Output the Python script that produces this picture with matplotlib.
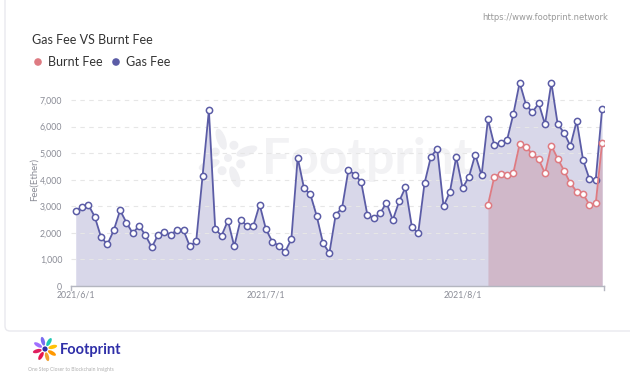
import matplotlib.pyplot as plt
import matplotlib.patches as mpatches
import numpy as np
import pandas as pd

# daily fee totals (Ether), 2021/6/1 .. 2021/8/23
dates = pd.date_range('2021-06-01', periods=84, freq='D')
gas_fee = [2823, 2974, 3049, 2610, 1832, 1568, 2095, 2848, 2384, 1982,
           2271, 1907, 1455, 1932, 2033, 1932, 2120, 2095, 1493, 1694,
           4128, 6612, 2133, 1895, 2459, 1493, 2497, 2258, 2258, 3061,
           2133, 1669, 1518, 1280, 1757, 4831, 3676, 3450, 2635, 1606,
           1242, 2685, 2936, 4366, 4191, 3927, 2660, 2560, 2735, 3137,
           2484, 3187, 3713, 2233, 1983, 3864, 4855, 5168, 2998, 3538,
           4855, 3688, 4102, 4943, 4165, 6272, 5306, 5394, 5482, 6460,
           7653, 6825, 6536, 6875, 6084, 7653, 6084, 5770, 5269, 6221,
           4742, 4027, 4001, 6662]
# burnt fee starts with EIP-1559 (2021/8/5)
burnt_dates = pd.date_range('2021-08-05', periods=19, freq='D')
burnt_fee = [3049, 4102, 4228, 4178, 4253, 5344, 5231, 4968, 4768, 4240,
             5281, 4793, 4341, 3864, 3550, 3462, 3061, 3112, 5382]

tick_dates = pd.to_datetime(['2021-06-01', '2021-07-01', '2021-08-01'])
tick_labels = ['2021/6/1', '2021/7/1', '2021/8/1']

gas_color = '#5b5ca6'
burnt_color = '#de7b82'
label_gray = '#8a8c96'

plt.rcParams['font.family'] = ['Lato', 'DejaVu Sans']

fig = plt.figure(figsize=(6.3, 3.79), dpi=100)
fig.patch.set_facecolor('white')

# background layer in pixel coordinates (card, watermark, legend, footer)
bg = fig.add_axes([0, 0, 1, 1], zorder=-1)
bg.set_xlim(0, 630)
bg.set_ylim(379, 0)
bg.axis('off')

bg.add_patch(mpatches.FancyBboxPatch((5, -20), 700, 351,
                                     boxstyle='round,pad=0,rounding_size=5',
                                     facecolor='white', edgecolor='#e9e9ee',
                                     linewidth=1.0))

# watermark
bg.text(262, 160, 'Footprint', fontsize=36, fontweight='bold', color='#f2f2f4',
        va='center', ha='left')
cx, cy = 228, 158
for k in range(8):
    ang = k * 45 + 20
    r = 20 if k % 2 == 0 else 14
    px = cx + r * np.cos(np.deg2rad(ang))
    py = cy - r * np.sin(np.deg2rad(ang))
    w = 22 if k % 2 == 0 else 9
    bg.add_patch(mpatches.Ellipse((px, py), w, 9, angle=-ang,
                                  facecolor='#efeff2', edgecolor='none'))
bg.add_patch(mpatches.Circle((cx, cy), 4, facecolor='#efeff2', edgecolor='none'))

# title, legend, url
bg.text(32, 40, 'Gas Fee VS Burnt Fee', fontsize=9, color='#333333',
        va='center', ha='left')
bg.add_patch(mpatches.Circle((38, 62), 3.8, facecolor=burnt_color, edgecolor='none'))
bg.text(48, 62, 'Burnt Fee', fontsize=9, color='#333333', va='center', ha='left')
bg.add_patch(mpatches.Circle((116, 62), 3.8, facecolor=gas_color, edgecolor='none'))
bg.text(126, 62, 'Gas Fee', fontsize=9, color='#333333', va='center', ha='left')
bg.text(608, 17, 'https://www.footprint.network', fontsize=6, color='#999999',
        va='center', ha='right', family=['DejaVu Sans'])

# footer logo
lx, ly = 45, 349
petals = ['#1fc8b4', '#ffc107', '#ff9800', '#f0a030', '#e6174f', '#e02060',
          '#a070ff', '#7b6cf0']
for k, c in enumerate(petals):
    ang = 60 - k * 45
    px = lx + 8 * np.cos(np.deg2rad(ang))
    py = ly - 8 * np.sin(np.deg2rad(ang))
    bg.add_patch(mpatches.Ellipse((px, py), 9, 3.8, angle=-ang,
                                  facecolor=c, edgecolor='none'))
bg.add_patch(mpatches.Circle((lx, ly), 2.6, facecolor='#2f2fa8', edgecolor='none'))
bg.text(60, 350, 'Footprint', fontsize=10.5, fontweight='bold', color='#2f2fa8',
        va='center', ha='left')
bg.text(28, 370, 'One Step Closer to Blockchain Insights', fontsize=3.6,
        color='#b0b0b0', va='center', ha='left')

# main chart
ax = fig.add_axes([70.7 / 630, 1 - 286 / 379, (604 - 70.7) / 630, (286 - 73.4) / 379])
ax.set_facecolor('none')

ax.fill_between(dates, gas_fee, 0, color='#d5d4e8', alpha=0.92, linewidth=0, zorder=1)
ax.fill_between(burnt_dates, burnt_fee, 0, color='#d0b8c9', linewidth=0, zorder=2)
ax.plot(dates, gas_fee, color=gas_color, linewidth=1.3, marker='o', markersize=4.5,
        markerfacecolor='white', markeredgecolor=gas_color, markeredgewidth=1.1,
        zorder=4)
ax.plot(burnt_dates, burnt_fee, color=burnt_color, linewidth=1.3, marker='o',
        markersize=4.5, markerfacecolor='white', markeredgecolor=burnt_color,
        markeredgewidth=1.1, zorder=5)

ax.set_ylim(0, 8000)
ax.set_xlim(dates[0] - pd.Timedelta(days=0.79), dates[-1] + pd.Timedelta(days=0.3))
ax.set_yticks(range(0, 8000, 1000))
ax.set_yticklabels(['0' if v == 0 else f'{v:,}' for v in range(0, 8000, 1000)])
ax.set_xticks(tick_dates)
ax.set_xticklabels(tick_labels)
ax.tick_params(axis='both', length=0, labelsize=6.3, colors=label_gray)
ax.tick_params(axis='y', pad=6)
ax.tick_params(axis='x', pad=3)
ax.grid(axis='y', color='#e6e6e6', linestyle=(0, (4, 4)), linewidth=0.8, zorder=0)
for s in ['left', 'top', 'right']:
    ax.spines[s].set_visible(False)
ax.spines['bottom'].set_color('#b4b6c0')
ax.spines['bottom'].set_linewidth(1.0)
for xa in (0, 1):
    ax.plot([xa, xa], [0, -0.018], transform=ax.transAxes, color='#b4b6c0',
            linewidth=1.0, clip_on=False)
ax.set_ylabel('Fee(Ether)', fontsize=6.8, color=label_gray, labelpad=1)

fig.savefig('out.png', dpi=100)
